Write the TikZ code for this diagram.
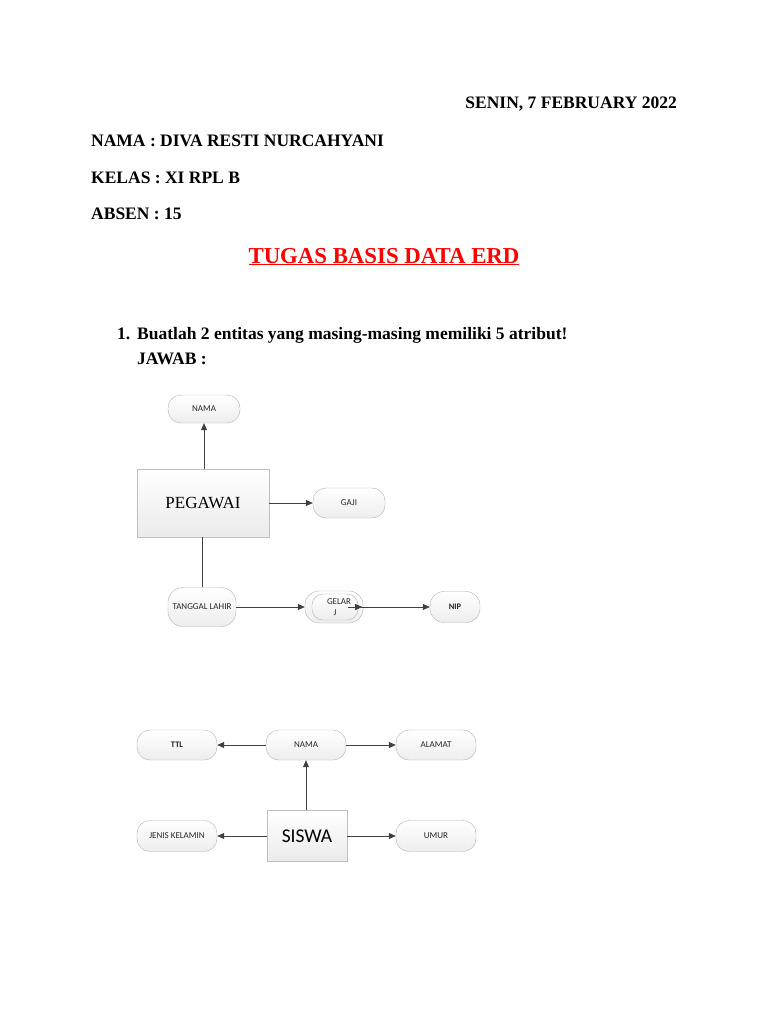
\documentclass[tikz,border=0pt]{standalone}
\usepackage{fontspec}
\setmainfont{Liberation Serif}
\newfontfamily\carl{Carlito}
\usetikzlibrary{arrows.meta}
\tikzset{
  hdr/.style={anchor=base west, font=\fontsize{17.5}{20}\selectfont\bfseries, inner sep=0pt},
  attr/.style={draw=gray!60, rounded corners=13pt, top color=white, bottom color=gray!14,
     minimum height=30pt, inner sep=1pt, font=\carl\fontsize{9}{10}\selectfont, text=black!85, align=center},
  ent/.style={draw=gray!50, top color=white, bottom color=gray!16, inner sep=0pt},
  conn/.style={draw=black!75, line width=0.75pt, -{Triangle[length=7pt,width=6pt]}},
  plain/.style={draw=black!75, line width=0.75pt}
}
\begin{document}
\begin{tikzpicture}[x=1pt,y=-1pt]
\useasboundingbox (0,0) rectangle (768,1024);
\fill[white] (0,0) rectangle (768,1024);
% header
\node[anchor=base east, font=\fontsize{17.5}{20}\selectfont\bfseries, inner sep=0pt] (date) at (677,109) {SENIN, 7 FEBRUARY 2022};
\node[hdr] (nama) at (91,147) {NAMA : DIVA RESTI NURCAHYANI};
\node[hdr] (kelas) at (91,184) {KELAS : XI RPL B};
\node[hdr] (absen) at (91,220) {ABSEN : 15};
\node[anchor=base, font=\fontsize{22.8}{26}\selectfont\bfseries, text=red, inner sep=0pt] (title) at (384,263) {\underline{TUGAS BASIS DATA ERD}};
\node[hdr] (num) at (117,339) {1.};
\node[hdr] (q) at (137,339) {Buatlah 2 entitas yang masing-masing memiliki 5 atribut!};
\node[hdr] (jawab) at (137,364) {JAWAB :};

% diagram 1
\node[ent, minimum width=132pt, minimum height=68pt, font=\fontsize{17}{19}\selectfont] (peg) at (203,503) {PEGAWAI};
\node[attr, minimum width=72pt, minimum height=28pt] (nama1) at (204,409) {NAMA};
\node[attr, minimum width=72pt] (gaji) at (349,503) {GAJI};
\node[attr, minimum width=68pt, minimum height=39pt, rounded corners=15pt] (tgl) at (202,607) {TANGGAL LAHIR};
\node[attr, minimum width=58pt, minimum height=32pt, rounded corners=14pt] (gelar) at (334,607) {};
\node[attr, minimum width=46pt, minimum height=26pt, rounded corners=11pt, font=\carl\fontsize{9}{11}\selectfont] (gelarin) at (335,607) {\hspace*{8pt}GELAR\\J};
\node[attr, minimum width=50pt, minimum height=31pt, rounded corners=14pt, font=\carl\bfseries\fontsize{8.5}{9}\selectfont] (nip) at (455,607) {NIP};

\draw[conn] (peg.north -| nama1.south) -- (nama1.south);
\draw[conn] (peg.east) -- (gaji.west);
\draw[plain] (peg.south -| tgl.north) -- (tgl.north);
\draw[conn] (tgl.east) -- (gelar.west);
\draw[conn] (gelarin.east) -- (nip.west);
\draw[conn] ([xshift=-10pt]gelarin.east) -- ([xshift=4pt]gelarin.east);

% diagram 2
\node[ent, minimum width=80pt, minimum height=51pt, font=\carl\fontsize{19.5}{21}\selectfont] (siswa) at (307,836) {SISWA};
\node[attr, minimum width=80pt, font=\carl\bfseries\fontsize{8.5}{9}\selectfont] (ttl) at (177,745) {TTL};
\node[attr, minimum width=80pt] (nama2) at (306,745) {NAMA};
\node[attr, minimum width=80pt] (alamat) at (436,745) {ALAMAT};
\node[attr, minimum width=80pt, minimum height=31pt] (jk) at (177,836) {JENIS KELAMIN};
\node[attr, minimum width=80pt, minimum height=31pt] (umur) at (436,836) {UMUR};

\draw[conn] (nama2.west) -- (ttl.east);
\draw[conn] (nama2.east) -- (alamat.west);
\draw[conn] (siswa.north -| nama2.south) -- (nama2.south);
\draw[conn] (siswa.west) -- (jk.east);
\draw[conn] (siswa.east) -- (umur.west);
\end{tikzpicture}
\end{document}
